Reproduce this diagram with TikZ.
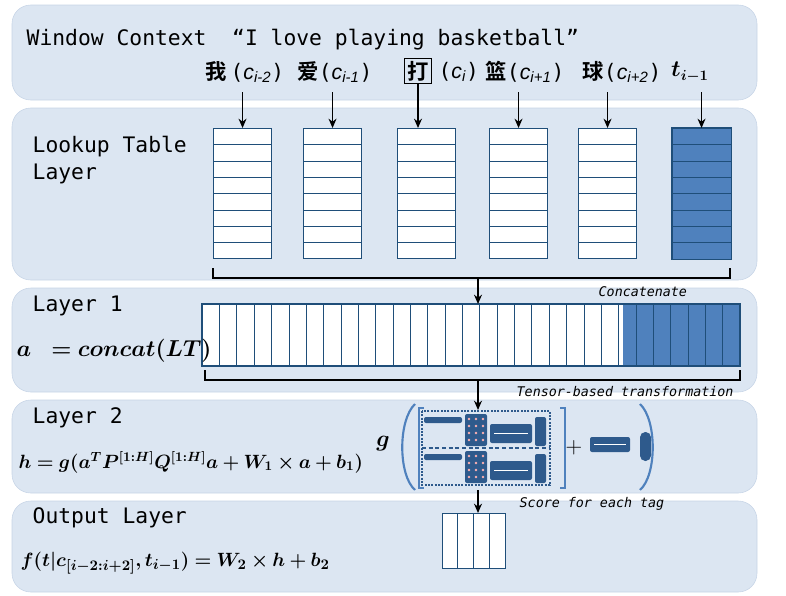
\documentclass[tikz,border=0pt]{standalone}
\usepackage{amsmath,bm}
\usepackage{fontspec}
\setmainfont{DejaVu Sans Mono}
\newfontfamily\cjk{Noto Sans CJK SC}[BoldFont=* Bold]
\newfontfamily\lab{Liberation Sans}
\newcommand{\myc}[1]{{\lab\itshape c}\textsubscript{\lab\itshape #1}}
\usetikzlibrary{arrows.meta,calc}
\definecolor{panel}{HTML}{DCE6F2}
\definecolor{pedge}{HTML}{C6D4E6}
\definecolor{cellb}{HTML}{4F81BD}
\definecolor{dk}{HTML}{1F4E79}
\definecolor{dkb}{HTML}{2E5A8C}
\tikzset{
 panel/.style={fill=panel,draw=pedge,rounded corners=14pt},
 arr/.style={-{Stealth[length=7pt,width=6pt]},line width=1.1pt},
 ttl/.style={anchor=west,font=\fontsize{16}{16}\selectfont},
 col/.style={draw=dk,thick,fill=white,minimum width=43.5pt,minimum height=97.5pt,inner sep=0,anchor=north west},
 wd/.style={font=\fontsize{16}{16}\selectfont,inner sep=1pt},
 tiny/.style={font=\fontsize{10}{10}\selectfont\itshape,anchor=west},
 dblk/.style={fill=dkb,rounded corners=1.5pt},
}
\begin{document}
\begin{tikzpicture}[x=0.75pt,y=-0.75pt]
\useasboundingbox (0,0) rectangle (786,596);
% panels
\draw[panel] (12,5) rectangle (757,100);
\draw[panel] (12,108) rectangle (757,280);
\draw[panel] (12,288) rectangle (757,392);
\draw[panel] (12,400) rectangle (757,493);
\draw[panel] (12,501) rectangle (757,592);
% titles
\node[ttl] (t1) at (22,40) {Window Context \ “I love playing basketball”};
\node[ttl,align=left] (t2) at (28,160) {Lookup Table\\[4pt]Layer};
\node[ttl] (t3) at (28,306) {Layer 1};
\node[ttl] (t4) at (28,418) {Layer 2};
\node[ttl] (t5) at (28,518) {Output Layer};
% words
\node[wd] (w1) at (245,72) {{\cjk\bfseries 我}\,({\myc{i-2}})};
\node[wd] (w2) at (335,72) {{\cjk\bfseries 爱}({\myc{i-1}})};
\node[wd,draw,thick,inner sep=2pt] (w3b) at (418,71) {\cjk\bfseries 打};
\node[wd,anchor=west] (w3c) at (437,72) {({\myc{i}})};
\node[wd] (w4) at (525,72) {{\cjk\bfseries 篮}({\myc{i+1}})};
\node[wd] (w5) at (622,72) {{\cjk\bfseries 球}({\myc{i+2}})};
\node[wd] (w6) at (690,72) {$\bm{t_{i-1}}$};
% columns
\foreach \n/\x in {1/213,2/303,3/397,4/489,5/578,6/672}{
  \node[col] (c\n) at (\x,128) {};
}
\fill[cellb] (c6.north west) rectangle (c6.south east);
\draw[dk,thick] (c6.north west) rectangle (c6.south east);
\foreach \n in {1,...,6}{
  \foreach \k in {1,...,7}{
    \draw[dk] ($(c\n.north west)!\k/8!(c\n.south west)$) -- ($(c\n.north east)!\k/8!(c\n.south east)$);
  }
}
\foreach \n in {1,2,4,5,6}{ \draw[arr] (c\n.north |- 0,92) -- (c\n.north); }
\draw[arr] (w3b.south) -- (w3b.south |- c3.north);
% bracket 1
\coordinate (b1m) at (478,278);
\draw[thick] (213,268) -- (213,278) -- (730,278) -- (730,268);
% layer 1 bar
\node[draw=dk,thick,fill=white,minimum width=403.5pt,minimum height=46.5pt,inner sep=0,anchor=north west] (bar) at (202,304) {};
\fill[cellb] (623,304) rectangle (740,366);
\foreach \i in {1,...,30}{ \draw[dk] ({202+\i*538/31},304) -- ({202+\i*538/31},366); }
\draw[dk,thick] (202,304) rectangle (740,366);
\draw[arr] (b1m) -- (bar.north -| b1m);
\node[tiny] (cc) at (594,292) {Concatenate};
\node[anchor=west,font=\fontsize{17}{17}\selectfont] (eq1) at (12,351) {$\bm{a\ = concat(LT)}$};
% bracket 2
\draw[thick] (205,370) -- (205,380) -- (740,380) -- (740,370);
\coordinate (b2m) at (478,380);
\node[tiny] (tb) at (512,392) {Tensor-based transformation};
% layer 2
\node[anchor=west,font=\fontsize{14.5}{14.5}\selectfont] (eq2) at (14,462) {$\bm{h = g(a^T P^{[1:H]} Q^{[1:H]} a + W_1 \times a + b_1)}$};
\node[font=\fontsize{18}{18}\selectfont] (g) at (383,444) {$\bm{g}$};
\coordinate (tens) at (478,410);
\draw[arr] (b2m) -- (tens);
\draw[cellb,line width=1.6pt] (415,404) .. controls (398,420) and (398,475) .. (415,490);
\draw[cellb,line width=1.6pt] (640,404) .. controls (657,420) and (657,475) .. (640,490);
\draw[cellb,line width=1.2pt] (424,408) -- (419,408) -- (419,488) -- (424,488);
\draw[cellb,line width=1.2pt] (560,408) -- (565,408) -- (565,488) -- (560,488);
\draw[dkb,densely dotted,line width=1.5pt] (422,411) rectangle (550,485);
\draw[dkb,densely dashed,line width=2pt] (422,448) -- (550,448);
\foreach \dy in {0,37}{
 \fill[dblk] (424,{417+\dy}) rectangle (462,{423+\dy});
 \fill[dblk] (465,{414+\dy}) rectangle (487,{446+\dy});
 \fill[dblk] (490,{424+\dy}) rectangle (532,{443+\dy});
 \fill[dblk] (535,{417+\dy}) rectangle (546,{446+\dy});
 \foreach \xx in {469,476,483}{ \foreach \yy in {419,426,433,440}{ \fill[white!70!red] (\xx,{\yy+\dy}) circle (1pt);} }
 \draw[white,thin] (494,{433+\dy}) -- (528,{433+\dy});
}
\node[font=\fontsize{18}{18}\selectfont] (plus) at (574,448) {$+$};
\fill[dblk] (590,437) rectangle (630,452);
\draw[white,thin] (594,444.5) -- (626,444.5);
\fill[dblk,rounded corners=4pt] (640,432) rectangle (651,461);
% output
\node[draw=dk,thick,fill=white,minimum width=47pt,minimum height=41pt,inner sep=0,anchor=north west] (out) at (442,513) {};
\foreach \i in {1,2,3}{ \draw[dk,thick] ({442+\i*63/4},513) -- ({442+\i*63/4},568); }
\coordinate (gb) at (478,490);
\draw[arr] (gb) -- (out.north -| gb);
\node[tiny] (sc) at (515,504) {Score for each tag};
\node[anchor=west,font=\fontsize{15.5}{15.5}\selectfont] (eq3) at (16,563) {$\bm{f(t|c_{[i-2:i+2]},t_{i-1}) = W_2 \times h + b_2}$};
\end{tikzpicture}
\end{document}
